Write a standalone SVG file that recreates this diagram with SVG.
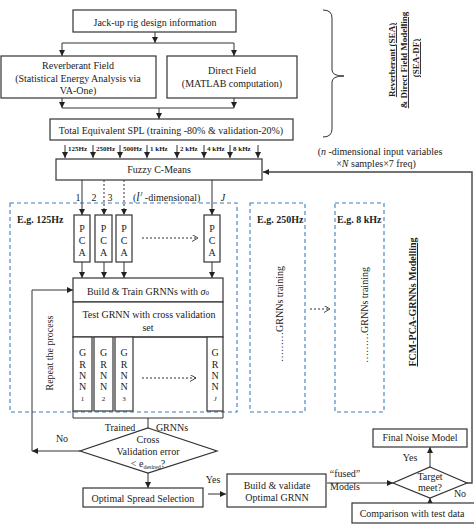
<svg xmlns="http://www.w3.org/2000/svg" width="474" height="525" viewBox="0 0 474 525" font-family="'Liberation Serif', 'Times New Roman', serif">
<defs>
<style>
text{font-family:"Liberation Serif","Times New Roman",serif;font-size:10px;fill:#222}
.c{text-anchor:middle}
.b{font-weight:bold}
.f{font-size:7px;font-weight:bold}
.s{font-size:7px}
.box{fill:#fff;stroke:#333;stroke-width:1.2}
.dash{fill:none;stroke:#3f7fc0;stroke-width:1.1;stroke-dasharray:4,3}
.ln{fill:none;stroke:#333;stroke-width:1}
.dot{fill:none;stroke:#333;stroke-width:1;stroke-dasharray:2,2}
.u{text-decoration:underline}
</style>
<marker id="ah" markerUnits="userSpaceOnUse" markerWidth="7" markerHeight="7" refX="6" refY="3" orient="auto"><path d="M0,0 L6,3 L0,6 z" fill="#222"/></marker>
<marker id="oh" markerUnits="userSpaceOnUse" markerWidth="8" markerHeight="8" refX="6" refY="3.5" orient="auto"><path d="M0,0 L6,3.5 L0,7" fill="none" stroke="#333" stroke-width="0.9"/></marker>
</defs>
<rect width="474" height="525" fill="#fff"/>

<g id="dashed-groups">
<rect class="dash" x="10" y="203" width="227" height="209"/>
<rect class="dash" x="250" y="203" width="55" height="209"/>
<rect class="dash" x="335" y="203" width="49" height="209"/>
<text class="b" x="17" y="223">E.g. 125Hz</text>
<text class="b" x="257" y="223">E.g. 250Hz</text>
<text class="b" x="337" y="223">E.g. 8 kHz</text>
</g>

<g id="connectors">
<path class="ln" d="M155,32 V43" marker-end="url(#ah)"/>
<path class="ln" d="M62,43 H234"/>
<path class="ln" d="M62,43 V56" marker-end="url(#ah)"/>
<path class="ln" d="M234,43 V56" marker-end="url(#ah)"/>
<path class="ln" d="M62,98 V108" marker-end="url(#ah)"/>
<path class="ln" d="M234,98 V108" marker-end="url(#ah)"/>
<path class="ln" d="M62,108 H234"/>
<path class="ln" d="M159,108 V119" marker-end="url(#ah)"/>
<path class="ln" d="M65,145 V158" marker-end="url(#ah)"/>
<path class="ln" d="M93,145 V158" marker-end="url(#ah)"/>
<path class="ln" d="M120,145 V158" marker-end="url(#ah)"/>
<path class="ln" d="M147,145 V158" marker-end="url(#ah)"/>
<path class="ln" d="M177,145 V158" marker-end="url(#ah)"/>
<path class="ln" d="M204,145 V158" marker-end="url(#ah)"/>
<path class="ln" d="M230,145 V158" marker-end="url(#ah)"/>
<path class="ln" d="M258,145 V158" marker-end="url(#ah)"/>
<path class="ln" d="M82,180 V215" marker-end="url(#ah)"/>
<path class="dot" d="M104,180 V215" marker-end="url(#ah)"/>
<path class="dot" d="M124,180 V215" marker-end="url(#ah)"/>
<path class="ln" d="M212,180 V215" marker-end="url(#ah)"/>
<path class="dot" d="M142,238 H198" marker-end="url(#oh)"/>
<path class="ln" d="M82,262 V278" marker-end="url(#ah)"/>
<path class="ln" d="M104,262 V278" marker-end="url(#ah)"/>
<path class="ln" d="M124,262 V278" marker-end="url(#ah)"/>
<path class="ln" d="M212,262 V278" marker-end="url(#ah)"/>
<path class="dot" d="M142,378 H196" marker-end="url(#oh)"/>
<path class="ln" d="M73,411 V418 H223 V411"/>
<path class="ln" d="M148,418 V428"/>
<path class="ln" d="M148,473 V488" marker-end="url(#ah)"/>
<path class="ln" d="M80,451 H32" marker-end="url(#ah)"/>
<path class="ln" d="M32,451 V290 H73" marker-end="url(#ah)"/>
<path class="ln" d="M208,494 H226" marker-end="url(#ah)"/>
<path class="ln" d="M327,483 H393" marker-end="url(#ah)"/>
<path class="ln" d="M430,467 V447" marker-end="url(#ah)"/>
<path class="ln" d="M430,503 V498" marker-end="url(#ah)"/>
<path fill="none" stroke="#444" stroke-width="1.4" d="M467,483 H472 V172 H263" marker-end="url(#ah)"/>
<path class="ln" d="M323,10 Q332,10 332,18 V70 Q332,76 344,76 Q332,76 332,82 V129 Q332,137 323,137"/>
<text class="c" x="62" y="442">No</text>
<text class="c" x="213" y="483">Yes</text>
<text class="c" x="120" y="431">Trained</text>
<text class="c" x="172" y="431">GRNNs</text>
<text class="c" x="345" y="477">“fused”</text>
<text class="c" x="345" y="490">Models</text>
<text class="c" x="410" y="461">Yes</text>
<text class="c" x="460" y="497">No</text>
<text class="c" transform="translate(53,353) rotate(-90)">Repeat the process</text>
</g>

<g id="jackup">
<rect class="box" x="73" y="10" width="163" height="22"/>
<text class="c" x="155" y="26">Jack-up rig design information</text>
</g>

<g id="reverberant">
<rect class="box" x="1" y="56" width="155" height="42"/>
<text class="c" x="78" y="69">Reverberant Field</text>
<text class="c" x="78" y="82">(Statistical Energy Analysis via</text>
<text class="c" x="78" y="94">VA-One)</text>
</g>

<g id="direct">
<rect class="box" x="167" y="56" width="130" height="42"/>
<text class="c" x="232" y="74">Direct Field</text>
<text class="c" x="232" y="87">(MATLAB computation)</text>
</g>

<g id="total">
<rect class="box" x="50" y="119" width="243" height="21"/>
<text class="c" x="171" y="134">Total Equivalent SPL (training -80% &amp; validation-20%)</text>
</g>

<g id="freq-labels">
<text class="f" x="68" y="151">125Hz</text>
<text class="f" x="96" y="151">250Hz</text>
<text class="f" x="123" y="151">500Hz</text>
<text class="f" x="150" y="151">1 kHz</text>
<text class="f" x="180" y="151">2 kHz</text>
<text class="f" x="207" y="151">4 kHz</text>
<text class="f" x="233" y="151">8 kHz</text>
</g>

<g id="sea-df-label">
<text class="c b u" style="font-size:9px" transform="translate(395,60) rotate(-90)">Reverberant (SEA)</text>
<text class="c b u" style="font-size:9px" transform="translate(407,60) rotate(-90)">&amp; Direct Field Modelling</text>
<text class="c b u" style="font-size:9px" transform="translate(419,58) rotate(-90)">(SEA-DF)</text>
</g>

<g id="input-note">
<text class="c" x="380" y="155">(<tspan font-style="italic">n</tspan> -dimensional input variables</text>
<text class="c" x="376" y="167">×<tspan font-style="italic">N</tspan> samples×7 freq)</text>
</g>

<g id="fcm">
<rect class="box" x="56" y="159" width="206" height="21"/>
<text class="c" x="159" y="173">Fuzzy C-Means</text>
</g>

<g id="cluster-labels">
<text class="c" x="78" y="201">1</text>
<text class="c" x="94" y="201">2</text>
<text class="c" x="110" y="201">3</text>
<text x="133" y="201">(<tspan font-style="italic" font-size="12">l</tspan><tspan font-style="italic" font-size="6" dy="-5">J</tspan><tspan dy="5"> -dimensional)</tspan></text>
<text class="c" x="223" y="201" font-style="italic">J</text>
</g>

<g id="pca">
<rect class="box" x="74" y="215" width="16" height="47"/>
<rect class="box" x="95" y="215" width="17" height="47"/>
<rect class="box" x="116" y="215" width="16" height="47"/>
<rect class="box" x="204" y="215" width="16" height="47"/>
<text class="c" x="82" y="232">P</text><text class="c" x="82" y="244">C</text><text class="c" x="82" y="256">A</text>
<text class="c" x="103.5" y="232">P</text><text class="c" x="103.5" y="244">C</text><text class="c" x="103.5" y="256">A</text>
<text class="c" x="124" y="232">P</text><text class="c" x="124" y="244">C</text><text class="c" x="124" y="256">A</text>
<text class="c" x="212" y="232">P</text><text class="c" x="212" y="244">C</text><text class="c" x="212" y="256">A</text>
</g>

<g id="build-train">
<rect class="box" x="73" y="278" width="150" height="24"/>
<text class="c" x="148" y="295">Build &amp; Train GRNNs with <tspan font-style="italic">σ</tspan><tspan font-size="7">0</tspan></text>
</g>

<g id="test-grnn">
<rect class="box" x="73" y="302" width="150" height="35"/>
<text class="c" x="149" y="318">Test GRNN with cross validation</text>
<text class="c" x="148" y="331">set</text>
</g>

<g id="grnns">
<rect class="box" x="73" y="337" width="19" height="74"/>
<rect class="box" x="94" y="337" width="19" height="74"/>
<rect class="box" x="115" y="337" width="18" height="74"/>
<rect class="box" x="207" y="337" width="16" height="74"/>
<path class="ln" d="M133,337 H207"/>
<text class="c" x="82.5" y="356">G</text><text class="c" x="82.5" y="367.5">R</text><text class="c" x="82.5" y="379">N</text><text class="c" x="82.5" y="390">N</text><text class="c s" x="82.5" y="401">1</text>
<text class="c" x="103.5" y="356">G</text><text class="c" x="103.5" y="367.5">R</text><text class="c" x="103.5" y="379">N</text><text class="c" x="103.5" y="390">N</text><text class="c s" x="103.5" y="401">2</text>
<text class="c" x="124" y="356">G</text><text class="c" x="124" y="367.5">R</text><text class="c" x="124" y="379">N</text><text class="c" x="124" y="390">N</text><text class="c s" x="124" y="401">3</text>
<text class="c" x="215" y="356">G</text><text class="c" x="215" y="367.5">R</text><text class="c" x="215" y="379">N</text><text class="c" x="215" y="390">N</text><text class="c s" x="215" y="401" font-style="italic">J</text>
</g>

<g id="other-freqs">
<text class="c" transform="translate(283,314) rotate(-90)">………GRNNs training</text>
<path class="dot" d="M310,309 H330" marker-end="url(#oh)"/>
<text class="c" transform="translate(368,315) rotate(-90)">………GRNNs training</text>
</g>

<g id="fcm-label">
<text class="c b u" transform="translate(416,302) rotate(-90)">FCM-PCA-GRNNs Modelling</text>
</g>

<g id="cv-decision">
<polygon class="box" points="148,428 217,451 148,473 80,451"/>
<text class="c" x="148" y="443">Cross</text>
<text class="c" x="148" y="455">Validation error</text>
<text class="c" x="148" y="467" font-size="8">&lt; e<tspan font-size="6" dy="1.5">desired</tspan><tspan dy="-1.5">?</tspan></text>
</g>

<g id="optimal-spread">
<rect class="box" x="83" y="488" width="120" height="19"/>
<text class="c" x="143" y="502">Optimal Spread Selection</text>
</g>

<g id="build-validate">
<rect class="box" x="227" y="474" width="99" height="33"/>
<text class="c" x="277" y="489">Build &amp; validate</text>
<text class="c" x="277" y="501">Optimal GRNN</text>
</g>

<g id="target-decision">
<polygon class="box" points="430,467 467,483 430,498 393,483"/>
<text class="c" x="430" y="480">Target</text>
<text class="c" x="430" y="491">meet?</text>
</g>

<g id="final-model">
<rect class="box" x="373" y="429" width="94" height="18"/>
<text class="c" x="420" y="441">Final Noise Model</text>
</g>

<g id="comparison">
<rect class="box" x="352" y="503" width="124" height="20"/>
<text class="c" x="412" y="517">Comparison with test data</text>
</g>
</svg>
